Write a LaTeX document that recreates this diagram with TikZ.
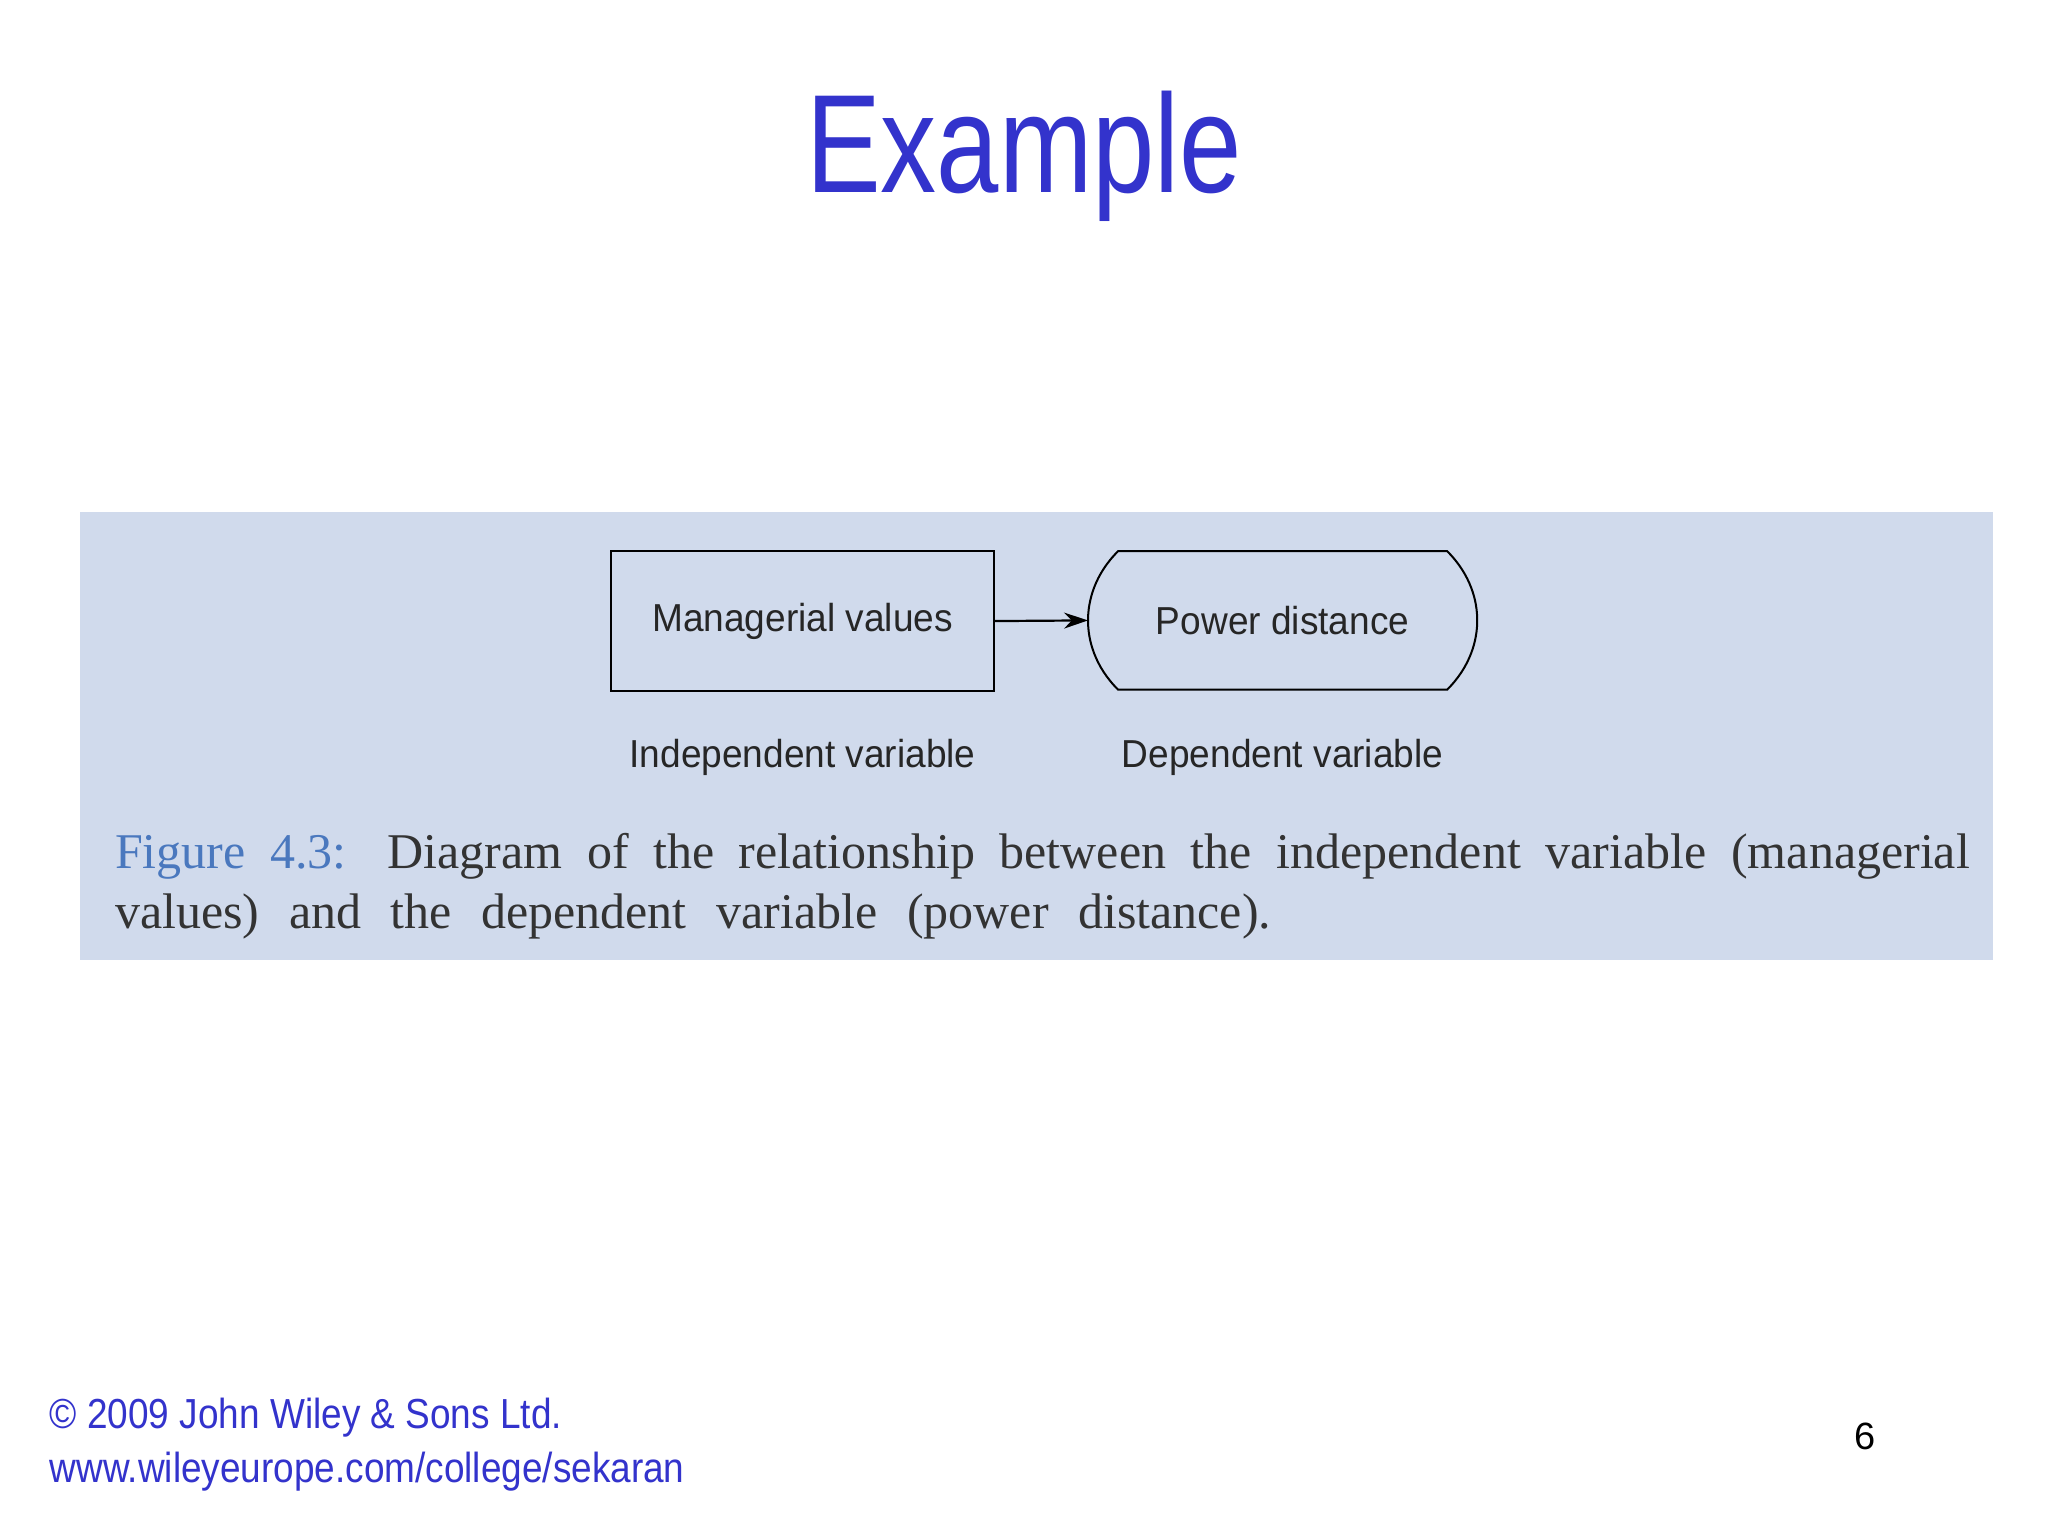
\documentclass[tikz,border=0pt]{standalone}
\usepackage{fontspec}
\setmainfont{Liberation Serif}
\setsansfont{Liberation Sans}
\usetikzlibrary{arrows.meta}
\definecolor{titleblue}{RGB}{51,51,204}
\definecolor{panel}{RGB}{208,218,236}
\definecolor{figblue}{RGB}{74,120,190}
\tikzset{lbl/.style={font=\sffamily\fontsize{39}{44}\selectfont,inner sep=0pt,text=black!85},
foot/.style={font=\sffamily\fontsize{42}{46}\selectfont,inner sep=0pt,anchor=west,text=titleblue}}
\begin{document}
\begin{tikzpicture}[x=1.3061pt,y=-1.3061pt]
\useasboundingbox (0,0) rectangle (1568,1176);
\fill[white] (0,0) rectangle (1568,1176);
\node[font=\sffamily\fontsize{140}{150}\selectfont,text=titleblue,inner sep=0pt] (title) at (784,120) {\scalebox{0.8}[1]{Example}};
\fill[panel] (61,392) rectangle (1526,735);
\node[draw,line width=2.2pt,minimum width=293*1.3061pt,minimum height=107*1.3061pt,lbl] (mv) at (614.5,475.5) {\scalebox{0.95}[1]{Managerial values}};
\draw[line width=2pt] (856,422) -- (1108,422) .. controls (1126,440) and (1131,460) .. (1131,475) .. controls (1131,490) and (1126,510) .. (1108,528) -- (856,528) .. controls (838,510) and (833,490) .. (833,475) .. controls (833,460) and (838,440) .. (856,422) -- cycle;
\node[lbl] (pd) at (982,475) {\scalebox{0.95}[1]{Power distance}};
\coordinate (pdl) at (833,475);
\draw[line width=2.2pt,-{Stealth[length=24pt,width=16pt]}] (mv.east) -- (pdl);
\node[lbl] (iv) at (614.5,580) {\scalebox{0.95}[1]{Independent variable}};
\node[lbl] (dv) at (982,580) {\scalebox{0.95}[1]{Dependent variable}};
\node[anchor=base west,inner sep=0pt,font=\fontsize{50}{56}\selectfont,text=black!80] (cap1) at (88,665) {\makebox[1420\dimexpr1.3061pt\relax][s]{\textcolor{figblue}{Figure 4.3:} Diagram of the relationship between the independent variable (managerial}};
\node[anchor=base west,inner sep=0pt,font=\fontsize{50}{56}\selectfont,text=black!80] (cap2) at (88,711) {\makebox[885\dimexpr1.3061pt\relax][s]{values) and the dependent variable (power distance).}};
\node[foot] (f1) at (38,1085) {\scalebox{0.88}[1]{© 2009 John Wiley \& Sons Ltd.}};
\node[foot] (f2) at (38,1127) {\scalebox{0.88}[1]{www.wileyeurope.com/college/sekaran}};
\node[font=\sffamily\fontsize{38}{40}\selectfont,inner sep=0pt] (pg) at (1428,1100) {6};
\end{tikzpicture}
\end{document}
